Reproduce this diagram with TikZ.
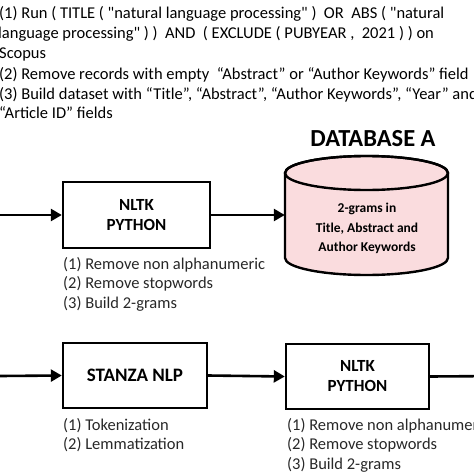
\documentclass[tikz,border=0pt]{standalone}
\usepackage{fontspec}
\setmainfont{Carlito}[Ligatures=TeXOff]
\usetikzlibrary{arrows.meta}
\definecolor{dbpink}{RGB}{250,220,222}
\definecolor{txtgray}{RGB}{40,40,40}
\begin{document}
\begin{tikzpicture}[x=1pt,y=-1pt,
  box/.style={draw, line width=2.4pt, inner sep=0pt, align=center,
    font=\fontsize{17}{20}\bfseries\selectfont},
  flow/.style={line width=2.6pt, -{Triangle[length=11pt,width=12pt]}},
  topline/.style={anchor=base west, inner sep=0pt, font=\fontsize{16.5}{20}\selectfont},
  listline/.style={anchor=base west, inner sep=0pt, text=txtgray, font=\fontsize{16.5}{20}\selectfont},
  dbtext/.style={anchor=base, inner sep=0pt, font=\fontsize{13.5}{20}\bfseries\selectfont}]
\useasboundingbox (0,0) rectangle (474,474);
\clip (0,0) rectangle (474,474);
\fill[white] (0,0) rectangle (474,474);
% top text
\node[topline] (t1) at (-1,18) {(1) Run ( TITLE ( "natural language processing" )\ \ OR\ \ ABS ( "natural};
\node[topline] (t2) at (-2,38) {language processing" ) )\ \ AND\ \ ( EXCLUDE ( PUBYEAR ,\ \ 2021 ) ) on};
\node[topline] (t3) at (-1,58) {Scopus};
\node[topline] (t4) at (-1,79) {(2) Remove records with empty \ “Abstract” or “Author Keywords” field};
\node[topline] (t5) at (-1,99) {(3) Build dataset with “Title”, “Abstract”, “Author Keywords”, “Year” and};
\node[topline] (t6) at (-1,118) {“Article ID” fields};
% database A
\node[anchor=base, inner sep=0pt, font=\fontsize{24.5}{28}\bfseries\selectfont] (dbtitle) at (373,146) {DATABASE A};
\filldraw[fill=dbpink, line width=2.4pt] (285,173) -- (285,258)
  arc[start angle=180, end angle=360, x radius=81.5pt, y radius=17pt] -- (448,173)
  arc[start angle=0, end angle=180, x radius=81.5pt, y radius=17pt] -- cycle;
\draw[line width=2.4pt] (366.5,173) ellipse [x radius=81.5pt, y radius=17pt];
\node[minimum width=163pt, minimum height=120pt, inner sep=0pt] (db) at (366.5,215) {};
\node[dbtext] (d1) at (367,212) {2-grams in};
\node[dbtext] (d2) at (367,232) {Title, Abstract and};
\node[dbtext] (d3) at (367,251) {Author Keywords};
% row 1
\coordinate (in1) at (0,215);
\node[box, minimum width=147pt, minimum height=66pt] (n1) at (136.5,215) {NLTK\\PYTHON};
\draw[flow] (in1) -- (n1.west);
\draw[flow] (n1.east) -- (db.west);
\node[listline] (l11) at (63,269) {(1) Remove non alphanumeric};
\node[listline] (l12) at (63,288.5) {(2) Remove stopwords};
\node[listline] (l13) at (63,308) {(3) Build 2-grams};
% row 2
\coordinate (in2) at (0,376);
\node[box, minimum width=144pt, minimum height=65pt, font=\fontsize{19}{20}\bfseries\selectfont] (st) at (135,375.5) {STANZA NLP};
\node[box, minimum width=143pt, minimum height=65pt] (n2) at (357.5,376.5) {NLTK\\PYTHON};
\coordinate (out2) at (500,376);
\draw[flow] (in2) -- (st.west);
\draw[flow] (st.east) -- (n2.west);
\draw[flow] (n2.east) -- (out2);
\node[listline] (l21) at (63,430) {(1) Tokenization};
\node[listline] (l22) at (63,449.5) {(2) Lemmatization};
\node[listline] (l31) at (287,430) {(1) Remove non alphanumeric};
\node[listline] (l32) at (287,449.5) {(2) Remove stopwords};
\node[listline] (l33) at (287,469) {(3) Build 2-grams};
\end{tikzpicture}
\end{document}
